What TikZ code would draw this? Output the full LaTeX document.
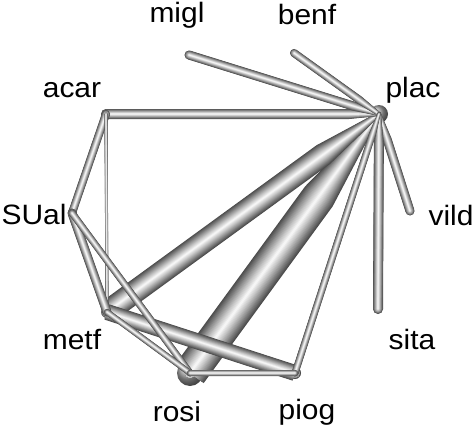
\documentclass[tikz,border=0pt]{standalone}
\usepackage{fontspec}
\setmainfont{Liberation Sans}[FakeStretch=1.07]
\usetikzlibrary{calc}

\newcommand{\tube}[4]{%
  \pgfmathsetmacro\tl{3*#3}
  \coordinate (tp) at ($(#2)!\tl pt!(#1)$);
  \foreach \k in {0,...,15}{
    \pgfmathsetmacro\s{1-\k/16}
    \pgfmathsetmacro\ra{\s*#3/2}
    \pgfmathsetmacro\rb{\s*#4/2}
    \pgfmathsetmacro\ca{min(\ra,5)}
    \pgfmathsetmacro\cb{min(\rb,5)}
    \pgfmathsetmacro\g{int(100*(1-0.7*\s^1.1))}
    \fill[white!\g!black] ($(#1)!\ra pt!90:(#2)$) -- ($(tp)!\ra pt!90:(#2)$)
      -- ($(#2)!\rb pt!-90:(#1)$) -- ($(#2)!\rb pt!90:(#1)$)
      -- ($(tp)!\ra pt!-90:(#2)$) -- ($(#1)!\ra pt!-90:(#2)$) -- cycle;
    \fill[white!\g!black] (#1) circle[radius=\ca pt] (#2) circle[radius=\cb pt];
  }
}

\begin{document}
\begin{tikzpicture}[
  x=1pt, y=-1pt,
  lbl/.style ={font=\fontsize{28}{32}\selectfont, anchor=base, inner sep=0pt},
  ball/.style={ball color=gray!75}
]
\useasboundingbox (0,0) rectangle (474,428);

\coordinate (plac) at (379,114);
\coordinate (migl) at (189,55);
\coordinate (benf) at (294,53);
\coordinate (acar) at (106,114);
\coordinate (SUal) at (72,213);
\coordinate (metf) at (107,312);
\coordinate (rosi) at (190,373);
\coordinate (piog) at (295,373);
\coordinate (sita) at (378,309);
\coordinate (vild) at (410,211);

\node[lbl] (migl-l) at (177,23)  {migl};
\node[lbl] (benf-l) at (307,25)  {benf};
\node[lbl] (acar-l) at (72,98)   {acar};
\node[lbl] (plac-l) at (413,97)  {plac};
\node[lbl] (SUal-l) at (34,224)  {SUal};
\node[lbl] (vild-l) at (451,225) {vild};
\node[lbl] (metf-l) at (72,349)  {metf};
\node[lbl] (sita-l) at (412,349) {sita};
\node[lbl] (rosi-l) at (177,421) {rosi};
\node[lbl] (piog-l) at (307,419) {piog};

\shade[ball] (plac) circle[radius=9pt];
\shade[ball] (rosi) circle[radius=13pt];
\shade[ball] (metf) circle[radius=6pt];
\shade[ball] (piog) circle[radius=6pt];

\tube{rosi}{plac}{34}{4}
\tube{metf}{plac}{23}{4}
\tube{metf}{piog}{16}{16}
\tube{acar}{plac}{10}{4}
\tube{migl}{plac}{9}{4}
\tube{benf}{plac}{8}{4}
\tube{vild}{plac}{9}{4}
\tube{sita}{plac}{10}{4}
\tube{piog}{plac}{7}{3}
\tube{SUal}{acar}{8}{8}
\tube{acar}{metf}{3}{3}
\tube{SUal}{metf}{9}{9}
\tube{SUal}{rosi}{7}{7}
\tube{metf}{rosi}{6}{6}
\tube{rosi}{piog}{6}{6}

\end{tikzpicture}
\end{document}
